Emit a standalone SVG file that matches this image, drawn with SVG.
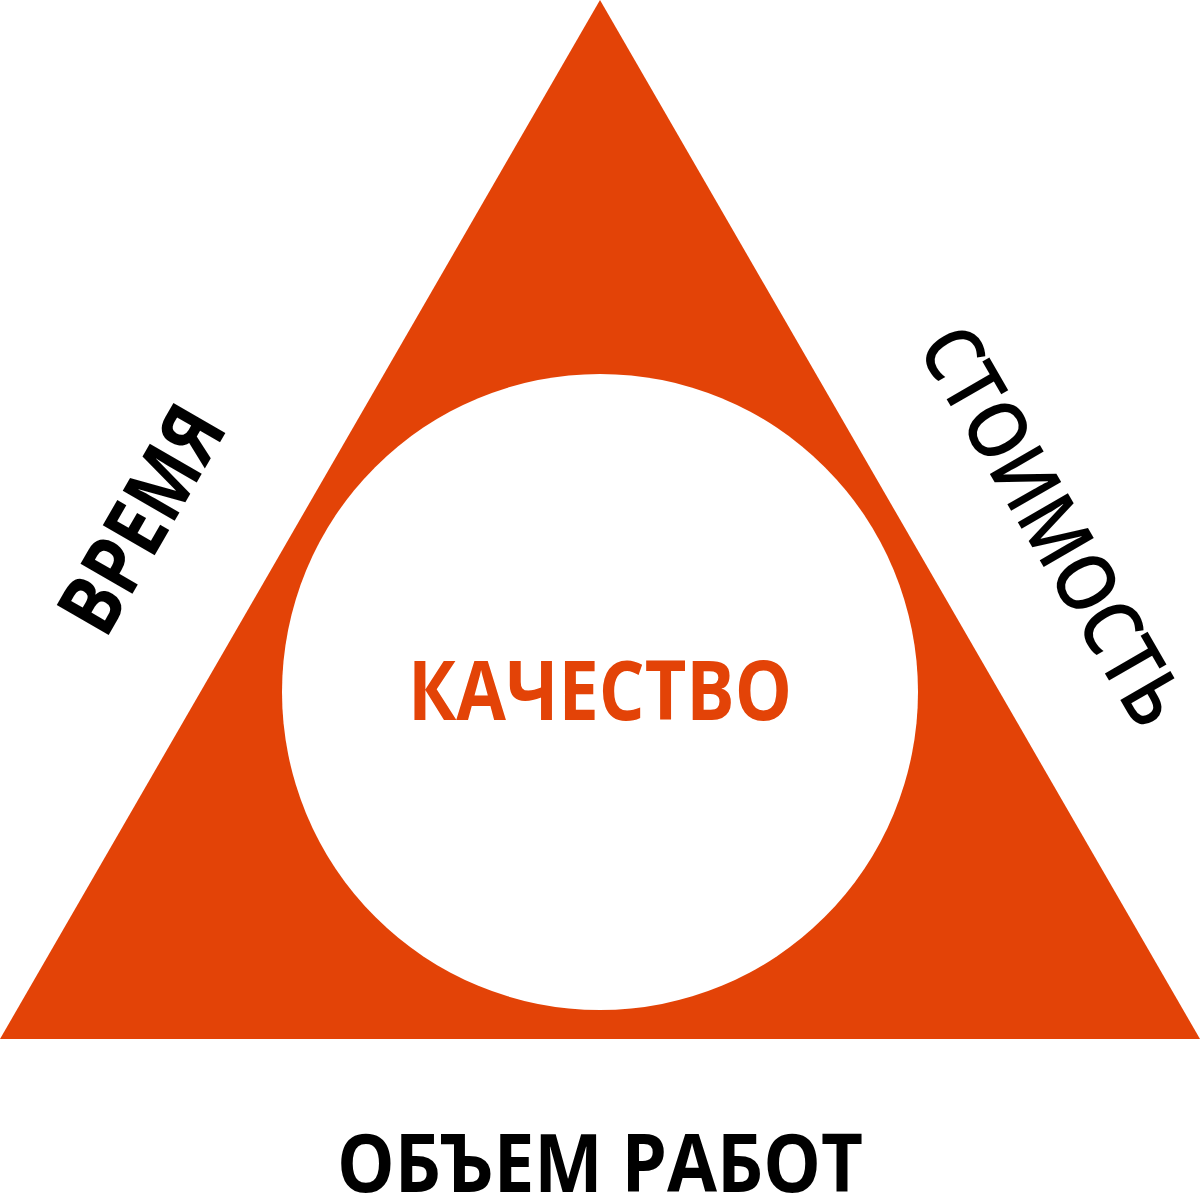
<svg xmlns="http://www.w3.org/2000/svg" width="1200" height="1196" viewBox="0 0 1200 1196">
<style>
.t{font-family:"Open Sans","Noto Sans","Liberation Sans",sans-serif;text-anchor:middle}
.b{font-weight:700}
.s{font-weight:600}
</style>
<rect width="1200" height="1196" fill="#fff"/>
<g id="triangle">
<polygon points="600,0 1200,1039 0,1039" fill="#E34307"/>
<circle cx="600" cy="692" r="318" fill="#fff"/>
</g>
<g id="quality"><text class="t b" x="600" y="720" font-size="82" fill="#E34307" textLength="384" lengthAdjust="spacingAndGlyphs">КАЧЕСТВО</text></g>
<g id="time"><text class="t b" transform="translate(167,534) rotate(-60)" font-size="84" fill="#000" textLength="246" lengthAdjust="spacingAndGlyphs">ВРЕМЯ</text></g>
<g id="cost"><text class="t s" transform="translate(1028,540) rotate(60)" font-size="81" fill="#000" textLength="446" lengthAdjust="spacingAndGlyphs">СТОИМОСТЬ</text></g>
<g id="scope"><text class="t b" x="600" y="1192" font-size="80" fill="#000" textLength="526" lengthAdjust="spacingAndGlyphs">ОБЪЕМ РАБОТ</text></g>
<g id="connectors"/>
</svg>
